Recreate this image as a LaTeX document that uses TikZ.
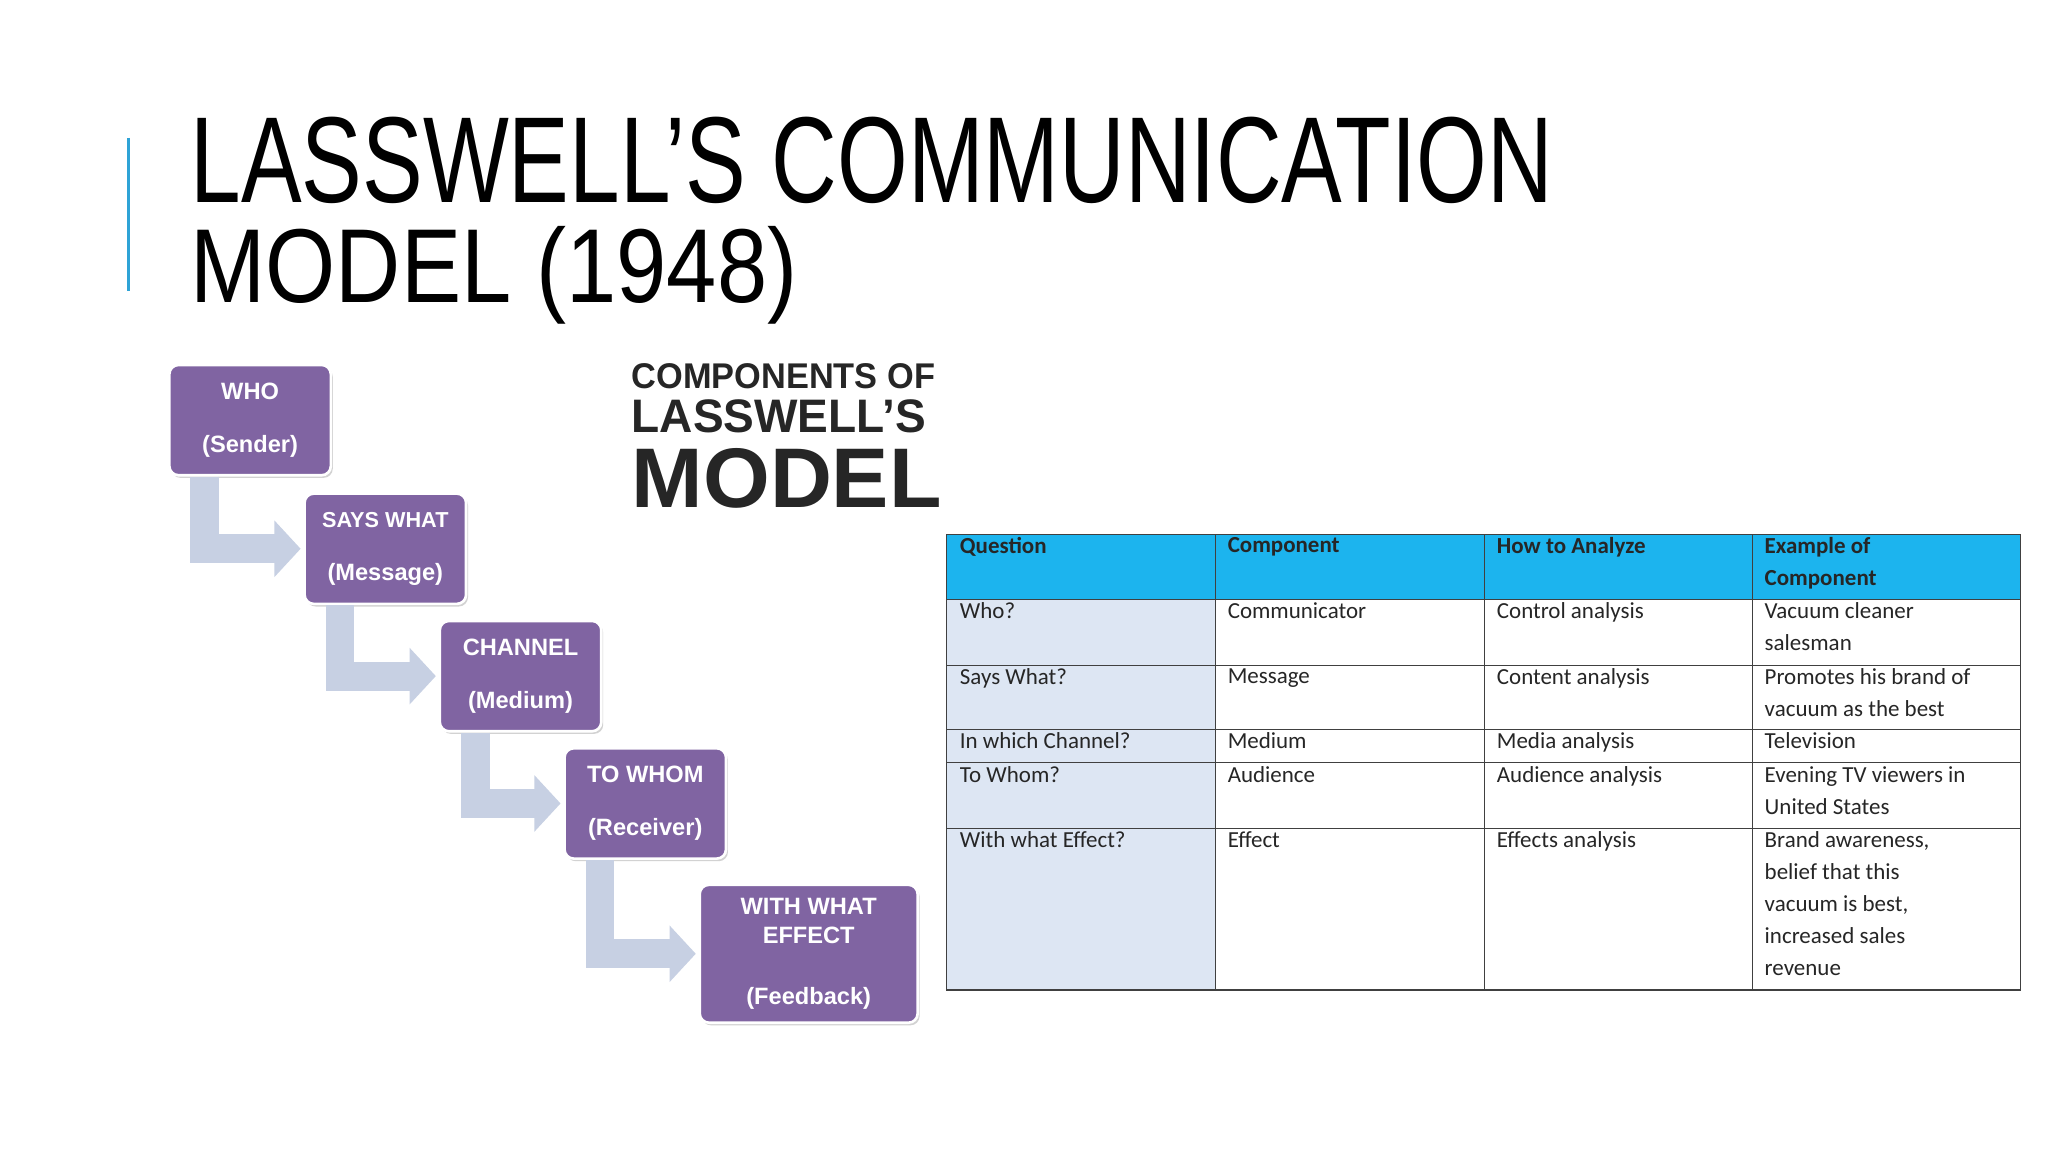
\documentclass[tikz,border=0pt]{standalone}
\usepackage{fontspec}
\setmainfont{Liberation Sans}
\newfontfamily\tabfont{Carlito}
\usetikzlibrary{arrows.meta,calc,shadows}
\definecolor{pbox}{HTML}{8064A2}
\definecolor{parr}{HTML}{C7D0E3}
\definecolor{hdr}{HTML}{1CB4EE}
\definecolor{lblue}{HTML}{DDE6F3}
\definecolor{bar}{HTML}{2FA3D6}
\begin{document}
\begin{tikzpicture}[x=1pt,y=-1pt,
 pstep/.style={draw=white,line width=2pt,fill=pbox,rounded corners=7pt,drop shadow={opacity=0.35,shadow xshift=1.5pt,shadow yshift=-2pt},text=white,font=\fontsize{18}{22}\selectfont\bfseries,align=center,anchor=north west,inner sep=0pt},
 parrow/.style={draw=parr,line width=22pt,-{Triangle[length=20pt,width=42pt]}},
 cell/.style={anchor=north west,font=\tabfont\fontsize{17.5}{24.5}\selectfont,align=left,inner sep=0pt,text=black!85},
 hcell/.style={cell,font=\tabfont\bfseries\fontsize{17.5}{24.5}\selectfont}]
\useasboundingbox (0,0) rectangle (1560,877.5);
\fill[white] (0,0) rectangle (1560,877.5);
\draw[bar,line width=2.5pt] (98,105) -- (98,222);
\node[anchor=south west,inner sep=0pt] (t1) at (145,155) {\resizebox{1037pt}{65pt}{LASSWELL’S COMMUNICATION}};
\node[anchor=north west,inner sep=0pt] (t2) at (145,172) {\resizebox{462pt}{58pt}{MODEL (1948)}};
% heading
\node[anchor=north west,inner sep=0pt,text=black!85] (h1) at (481,277) {\resizebox{231pt}{19pt}{\bfseries COMPONENTS OF}};
\node[anchor=north west,inner sep=0pt,text=black!85] (h2) at (481,304) {\resizebox{224pt}{25pt}{\bfseries LASSWELL'S}};
\node[anchor=north west,inner sep=0pt,text=black!85] (h3) at (481,341) {\resizebox{236pt}{45pt}{\bfseries MODEL}};
% boxes
\node[pstep,minimum width=123pt,minimum height=84pt] (b1) at (128,277) {WHO\\[18pt](Sender)};
\node[pstep,minimum width=123pt,minimum height=84pt] (b2) at (231,375) {\fontsize{16.5}{20}\selectfont SAYS WHAT\\[18pt](Message)};
\node[pstep,minimum width=123pt,minimum height=84pt] (b3) at (334,472) {CHANNEL\\[18pt](Medium)};
\node[pstep,minimum width=123pt,minimum height=84pt] (b4) at (429,569) {TO WHOM\\[18pt](Receiver)};
\node[pstep,minimum width=166pt,minimum height=105pt] (b5) at (532,673) {WITH WHAT\\EFFECT\\[24pt](Feedback)};
% arrows
\draw[parrow] ($(b1.south west)+(28,0)$) |- ($(b2.west)+(-2,0)$);
\draw[parrow] ($(b2.south west)+(28,0)$) |- ($(b3.west)+(-2,0)$);
\draw[parrow] ($(b3.south west)+(28,0)$) |- ($(b4.west)+(-2,0)$);
\draw[parrow] ($(b4.south west)+(28,0)$) |- ($(b5.west)+(-2,0)$);
% table
\fill[hdr] (721,407) rectangle (1539,457);
\fill[lblue] (721,457) rectangle (926,754);
\draw[black!75,line width=1pt] (721,407) rectangle (1539,754);
\foreach \x in {926,1131,1335} \draw[black!75,line width=0.8pt] (\x,407) -- (\x,754);
\foreach \y in {457,507,556,581,631} \draw[black!75,line width=0.8pt] (721,\y) -- (1539,\y);
\node[hcell] (c11) at (731,409) {Question};
\node[hcell] (c12) at (935,409) {Component};
\node[hcell] (c13) at (1140,409) {How to Analyze};
\node[hcell] (c14) at (1344,409) {Example of\\Component};
\node[cell] (c21) at (731,459) {Who?};
\node[cell] (c22) at (935,459) {Communicator};
\node[cell] (c23) at (1140,459) {Control analysis};
\node[cell] (c24) at (1344,459) {Vacuum cleaner\\salesman};
\node[cell] (c31) at (731,509) {Says What?};
\node[cell] (c32) at (935,509) {Message};
\node[cell] (c33) at (1140,509) {Content analysis};
\node[cell] (c34) at (1344,509) {Promotes his brand of\\vacuum as the best};
\node[cell] (c41) at (731,558) {In which Channel?};
\node[cell] (c42) at (935,558) {Medium};
\node[cell] (c43) at (1140,558) {Media analysis};
\node[cell] (c44) at (1344,558) {Television};
\node[cell] (c51) at (731,584) {To Whom?};
\node[cell] (c52) at (935,584) {Audience};
\node[cell] (c53) at (1140,584) {Audience analysis};
\node[cell] (c54) at (1344,584) {Evening TV viewers in\\United States};
\node[cell] (c61) at (731,633) {With what Effect?};
\node[cell] (c62) at (935,633) {Effect};
\node[cell] (c63) at (1140,633) {Effects analysis};
\node[cell] (c64) at (1344,633) {Brand awareness,\\belief that this\\vacuum is best,\\increased sales\\revenue};
\end{tikzpicture}
\end{document}
